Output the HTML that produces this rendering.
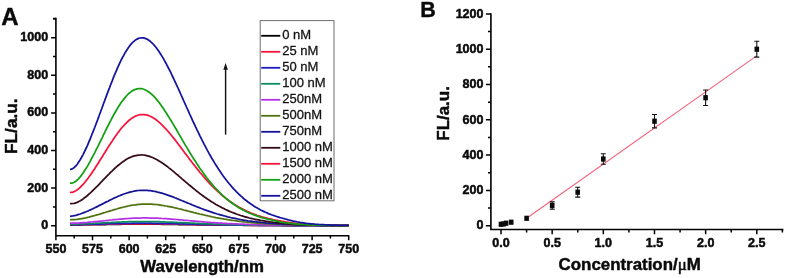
<!DOCTYPE html>
<html lang="en">
<head>
<meta charset="utf-8">
<title>Fluorescence spectra and calibration</title>
<style>
html,body{margin:0;padding:0;background:#fff;}
body{width:785px;height:278px;overflow:hidden;font-family:"Liberation Sans",Arial,sans-serif;}
svg{display:block;}
</style>
</head>
<body>
<svg width="785" height="278" viewBox="0 0 785 278">
<defs><filter id="soft" x="0" y="0" width="785" height="278" filterUnits="userSpaceOnUse" color-interpolation-filters="sRGB"><feGaussianBlur stdDeviation="0.3"/></filter></defs>
<rect width="785" height="278" fill="#fff"/>
<g filter="url(#soft)">
<g id="panelA">
<g><polyline points="70.0,224.8 71.4,224.8 72.9,224.8 74.3,224.8 75.8,224.8 77.3,224.8 78.7,224.8 80.2,224.8 81.6,224.8 83.1,224.8 84.5,224.7 86.0,224.7 87.5,224.7 88.9,224.7 90.4,224.7 91.8,224.7 93.3,224.6 94.8,224.6 96.2,224.6 97.7,224.6 99.1,224.6 100.6,224.5 102.1,224.5 103.5,224.5 105.0,224.5 106.4,224.5 107.9,224.4 109.4,224.4 110.8,224.4 112.3,224.4 113.7,224.3 115.2,224.3 116.7,224.3 118.1,224.3 119.6,224.3 121.0,224.3 122.5,224.2 124.0,224.2 125.4,224.2 126.9,224.2 128.3,224.2 129.8,224.2 131.2,224.2 132.7,224.2 134.2,224.1 135.6,224.1 137.1,224.1 138.5,224.1 140.0,224.1 141.5,224.1 142.9,224.1 144.4,224.1 145.8,224.1 147.3,224.1 148.8,224.2 150.2,224.2 151.7,224.2 153.1,224.2 154.6,224.2 156.1,224.2 157.5,224.2 159.0,224.2 160.4,224.2 161.9,224.3 163.4,224.3 164.8,224.3 166.3,224.3 167.7,224.3 169.2,224.3 170.7,224.4 172.1,224.4 173.6,224.4 175.0,224.4 176.5,224.4 178.0,224.5 179.4,224.5 180.9,224.5 182.3,224.5 183.8,224.6 185.2,224.6 186.7,224.6 188.2,224.6 189.6,224.6 191.1,224.7 192.5,224.7 194.0,224.7 195.5,224.7 196.9,224.8 198.4,224.8 199.8,224.8 201.3,224.8 202.8,224.8 204.2,224.9 205.7,224.9 207.1,224.9 208.6,224.9 210.1,224.9 211.5,224.9 213.0,225.0 214.4,225.0 215.9,225.0 217.4,225.0 218.8,225.0 220.3,225.1 221.7,225.1 223.2,225.1 224.7,225.1 226.1,225.1 227.6,225.1 229.0,225.1 230.5,225.2 231.9,225.2 233.4,225.2 234.9,225.2 236.3,225.2 237.8,225.2 239.2,225.2 240.7,225.2 242.2,225.2 243.6,225.3 245.1,225.3 246.5,225.3 248.0,225.3 249.5,225.3 250.9,225.3 252.4,225.3 253.8,225.3 255.3,225.3 256.8,225.3 258.2,225.3 259.7,225.4 261.1,225.4 262.6,225.4 264.1,225.4 265.5,225.4 267.0,225.4 268.4,225.4 269.9,225.4 271.4,225.4 272.8,225.4 274.3,225.4 275.7,225.4 277.2,225.4 278.6,225.4 280.1,225.4 281.6,225.5 283.0,225.5 284.5,225.5 285.9,225.5 287.4,225.5 288.9,225.5 290.3,225.5 291.8,225.5 293.2,225.5 294.7,225.5 296.2,225.5 297.6,225.5 299.1,225.5 300.5,225.5 302.0,225.5 303.5,225.5 304.9,225.5 306.4,225.5 307.8,225.5 309.3,225.5 310.8,225.5 312.2,225.5 313.7,225.5 315.1,225.5 316.6,225.6 318.1,225.6 319.5,225.6 321.0,225.6 322.4,225.6 323.9,225.6 325.3,225.6 326.8,225.6 328.3,225.6 329.7,225.6 331.2,225.6 332.6,225.6 334.1,225.6 335.6,225.6 337.0,225.6 338.5,225.6 339.9,225.6 341.4,225.6 342.9,225.6 344.3,225.6 345.8,225.6 347.2,225.6 348.7,225.6" fill="none" stroke="#000000" stroke-width="1.75" stroke-linejoin="round"/>
<polyline points="70.0,224.7 71.4,224.7 72.9,224.7 74.3,224.7 75.8,224.7 77.3,224.7 78.7,224.7 80.2,224.7 81.6,224.6 83.1,224.6 84.5,224.6 86.0,224.6 87.5,224.6 88.9,224.5 90.4,224.5 91.8,224.5 93.3,224.5 94.8,224.4 96.2,224.4 97.7,224.4 99.1,224.3 100.6,224.3 102.1,224.3 103.5,224.3 105.0,224.2 106.4,224.2 107.9,224.2 109.4,224.1 110.8,224.1 112.3,224.1 113.7,224.1 115.2,224.0 116.7,224.0 118.1,224.0 119.6,224.0 121.0,223.9 122.5,223.9 124.0,223.9 125.4,223.9 126.9,223.9 128.3,223.8 129.8,223.8 131.2,223.8 132.7,223.8 134.2,223.8 135.6,223.8 137.1,223.8 138.5,223.8 140.0,223.8 141.5,223.8 142.9,223.8 144.4,223.8 145.8,223.8 147.3,223.8 148.8,223.8 150.2,223.8 151.7,223.8 153.1,223.8 154.6,223.8 156.1,223.8 157.5,223.9 159.0,223.9 160.4,223.9 161.9,223.9 163.4,223.9 164.8,224.0 166.3,224.0 167.7,224.0 169.2,224.0 170.7,224.0 172.1,224.1 173.6,224.1 175.0,224.1 176.5,224.2 178.0,224.2 179.4,224.2 180.9,224.2 182.3,224.3 183.8,224.3 185.2,224.3 186.7,224.4 188.2,224.4 189.6,224.4 191.1,224.4 192.5,224.5 194.0,224.5 195.5,224.5 196.9,224.5 198.4,224.6 199.8,224.6 201.3,224.6 202.8,224.7 204.2,224.7 205.7,224.7 207.1,224.7 208.6,224.8 210.1,224.8 211.5,224.8 213.0,224.8 214.4,224.9 215.9,224.9 217.4,224.9 218.8,224.9 220.3,224.9 221.7,225.0 223.2,225.0 224.7,225.0 226.1,225.0 227.6,225.0 229.0,225.0 230.5,225.1 231.9,225.1 233.4,225.1 234.9,225.1 236.3,225.1 237.8,225.1 239.2,225.2 240.7,225.2 242.2,225.2 243.6,225.2 245.1,225.2 246.5,225.2 248.0,225.2 249.5,225.2 250.9,225.3 252.4,225.3 253.8,225.3 255.3,225.3 256.8,225.3 258.2,225.3 259.7,225.3 261.1,225.3 262.6,225.3 264.1,225.3 265.5,225.4 267.0,225.4 268.4,225.4 269.9,225.4 271.4,225.4 272.8,225.4 274.3,225.4 275.7,225.4 277.2,225.4 278.6,225.4 280.1,225.4 281.6,225.4 283.0,225.4 284.5,225.4 285.9,225.5 287.4,225.5 288.9,225.5 290.3,225.5 291.8,225.5 293.2,225.5 294.7,225.5 296.2,225.5 297.6,225.5 299.1,225.5 300.5,225.5 302.0,225.5 303.5,225.5 304.9,225.5 306.4,225.5 307.8,225.5 309.3,225.5 310.8,225.5 312.2,225.5 313.7,225.5 315.1,225.5 316.6,225.5 318.1,225.6 319.5,225.6 321.0,225.6 322.4,225.6 323.9,225.6 325.3,225.6 326.8,225.6 328.3,225.6 329.7,225.6 331.2,225.6 332.6,225.6 334.1,225.6 335.6,225.6 337.0,225.6 338.5,225.6 339.9,225.6 341.4,225.6 342.9,225.6 344.3,225.6 345.8,225.6 347.2,225.6 348.7,225.6" fill="none" stroke="#f5143c" stroke-width="1.75" stroke-linejoin="round"/>
<polyline points="70.0,224.6 71.4,224.6 72.9,224.6 74.3,224.5 75.8,224.5 77.3,224.5 78.7,224.5 80.2,224.5 81.6,224.5 83.1,224.4 84.5,224.4 86.0,224.4 87.5,224.3 88.9,224.3 90.4,224.3 91.8,224.2 93.3,224.2 94.8,224.2 96.2,224.1 97.7,224.1 99.1,224.0 100.6,224.0 102.1,224.0 103.5,223.9 105.0,223.9 106.4,223.8 107.9,223.8 109.4,223.7 110.8,223.7 112.3,223.7 113.7,223.6 115.2,223.6 116.7,223.6 118.1,223.5 119.6,223.5 121.0,223.4 122.5,223.4 124.0,223.4 125.4,223.4 126.9,223.3 128.3,223.3 129.8,223.3 131.2,223.3 132.7,223.2 134.2,223.2 135.6,223.2 137.1,223.2 138.5,223.2 140.0,223.2 141.5,223.2 142.9,223.2 144.4,223.2 145.8,223.2 147.3,223.2 148.8,223.2 150.2,223.2 151.7,223.2 153.1,223.3 154.6,223.3 156.1,223.3 157.5,223.3 159.0,223.3 160.4,223.4 161.9,223.4 163.4,223.4 164.8,223.4 166.3,223.5 167.7,223.5 169.2,223.5 170.7,223.6 172.1,223.6 173.6,223.6 175.0,223.7 176.5,223.7 178.0,223.8 179.4,223.8 180.9,223.8 182.3,223.9 183.8,223.9 185.2,223.9 186.7,224.0 188.2,224.0 189.6,224.1 191.1,224.1 192.5,224.1 194.0,224.2 195.5,224.2 196.9,224.2 198.4,224.3 199.8,224.3 201.3,224.4 202.8,224.4 204.2,224.4 205.7,224.5 207.1,224.5 208.6,224.5 210.1,224.6 211.5,224.6 213.0,224.6 214.4,224.7 215.9,224.7 217.4,224.7 218.8,224.7 220.3,224.8 221.7,224.8 223.2,224.8 224.7,224.8 226.1,224.9 227.6,224.9 229.0,224.9 230.5,224.9 231.9,225.0 233.4,225.0 234.9,225.0 236.3,225.0 237.8,225.0 239.2,225.1 240.7,225.1 242.2,225.1 243.6,225.1 245.1,225.1 246.5,225.1 248.0,225.2 249.5,225.2 250.9,225.2 252.4,225.2 253.8,225.2 255.3,225.2 256.8,225.2 258.2,225.3 259.7,225.3 261.1,225.3 262.6,225.3 264.1,225.3 265.5,225.3 267.0,225.3 268.4,225.3 269.9,225.3 271.4,225.4 272.8,225.4 274.3,225.4 275.7,225.4 277.2,225.4 278.6,225.4 280.1,225.4 281.6,225.4 283.0,225.4 284.5,225.4 285.9,225.4 287.4,225.4 288.9,225.4 290.3,225.5 291.8,225.5 293.2,225.5 294.7,225.5 296.2,225.5 297.6,225.5 299.1,225.5 300.5,225.5 302.0,225.5 303.5,225.5 304.9,225.5 306.4,225.5 307.8,225.5 309.3,225.5 310.8,225.5 312.2,225.5 313.7,225.5 315.1,225.5 316.6,225.5 318.1,225.5 319.5,225.6 321.0,225.6 322.4,225.6 323.9,225.6 325.3,225.6 326.8,225.6 328.3,225.6 329.7,225.6 331.2,225.6 332.6,225.6 334.1,225.6 335.6,225.6 337.0,225.6 338.5,225.6 339.9,225.6 341.4,225.6 342.9,225.6 344.3,225.6 345.8,225.6 347.2,225.6 348.7,225.6" fill="none" stroke="#1c1cc0" stroke-width="1.75" stroke-linejoin="round"/>
<polyline points="70.0,224.1 71.4,224.1 72.9,224.1 74.3,224.1 75.8,224.0 77.3,224.0 78.7,224.0 80.2,223.9 81.6,223.9 83.1,223.8 84.5,223.8 86.0,223.7 87.5,223.7 88.9,223.6 90.4,223.5 91.8,223.5 93.3,223.4 94.8,223.3 96.2,223.2 97.7,223.2 99.1,223.1 100.6,223.0 102.1,222.9 103.5,222.9 105.0,222.8 106.4,222.7 107.9,222.6 109.4,222.6 110.8,222.5 112.3,222.4 113.7,222.3 115.2,222.3 116.7,222.2 118.1,222.1 119.6,222.1 121.0,222.0 122.5,221.9 124.0,221.9 125.4,221.8 126.9,221.8 128.3,221.7 129.8,221.7 131.2,221.7 132.7,221.6 134.2,221.6 135.6,221.6 137.1,221.5 138.5,221.5 140.0,221.5 141.5,221.5 142.9,221.5 144.4,221.5 145.8,221.5 147.3,221.5 148.8,221.5 150.2,221.6 151.7,221.6 153.1,221.6 154.6,221.6 156.1,221.7 157.5,221.7 159.0,221.7 160.4,221.8 161.9,221.8 163.4,221.9 164.8,221.9 166.3,222.0 167.7,222.0 169.2,222.1 170.7,222.2 172.1,222.2 173.6,222.3 175.0,222.3 176.5,222.4 178.0,222.5 179.4,222.5 180.9,222.6 182.3,222.7 183.8,222.7 185.2,222.8 186.7,222.9 188.2,222.9 189.6,223.0 191.1,223.1 192.5,223.1 194.0,223.2 195.5,223.3 196.9,223.3 198.4,223.4 199.8,223.5 201.3,223.5 202.8,223.6 204.2,223.7 205.7,223.7 207.1,223.8 208.6,223.8 210.1,223.9 211.5,223.9 213.0,224.0 214.4,224.0 215.9,224.1 217.4,224.2 218.8,224.2 220.3,224.2 221.7,224.3 223.2,224.3 224.7,224.4 226.1,224.4 227.6,224.5 229.0,224.5 230.5,224.5 231.9,224.6 233.4,224.6 234.9,224.7 236.3,224.7 237.8,224.7 239.2,224.8 240.7,224.8 242.2,224.8 243.6,224.9 245.1,224.9 246.5,224.9 248.0,224.9 249.5,225.0 250.9,225.0 252.4,225.0 253.8,225.0 255.3,225.1 256.8,225.1 258.2,225.1 259.7,225.1 261.1,225.1 262.6,225.1 264.1,225.2 265.5,225.2 267.0,225.2 268.4,225.2 269.9,225.2 271.4,225.2 272.8,225.3 274.3,225.3 275.7,225.3 277.2,225.3 278.6,225.3 280.1,225.3 281.6,225.3 283.0,225.3 284.5,225.4 285.9,225.4 287.4,225.4 288.9,225.4 290.3,225.4 291.8,225.4 293.2,225.4 294.7,225.4 296.2,225.4 297.6,225.4 299.1,225.5 300.5,225.5 302.0,225.5 303.5,225.5 304.9,225.5 306.4,225.5 307.8,225.5 309.3,225.5 310.8,225.5 312.2,225.5 313.7,225.5 315.1,225.5 316.6,225.5 318.1,225.5 319.5,225.5 321.0,225.5 322.4,225.5 323.9,225.6 325.3,225.6 326.8,225.6 328.3,225.6 329.7,225.6 331.2,225.6 332.6,225.6 334.1,225.6 335.6,225.6 337.0,225.6 338.5,225.6 339.9,225.6 341.4,225.6 342.9,225.6 344.3,225.6 345.8,225.6 347.2,225.6 348.7,225.6" fill="none" stroke="#108a60" stroke-width="1.75" stroke-linejoin="round"/>
<polyline points="70.0,223.2 71.4,223.2 72.9,223.2 74.3,223.1 75.8,223.1 77.3,223.0 78.7,223.0 80.2,222.9 81.6,222.8 83.1,222.7 84.5,222.6 86.0,222.5 87.5,222.4 88.9,222.2 90.4,222.1 91.8,222.0 93.3,221.8 94.8,221.7 96.2,221.6 97.7,221.4 99.1,221.3 100.6,221.1 102.1,221.0 103.5,220.8 105.0,220.7 106.4,220.5 107.9,220.3 109.4,220.2 110.8,220.0 112.3,219.9 113.7,219.7 115.2,219.6 116.7,219.5 118.1,219.3 119.6,219.2 121.0,219.1 122.5,218.9 124.0,218.8 125.4,218.7 126.9,218.6 128.3,218.5 129.8,218.4 131.2,218.3 132.7,218.2 134.2,218.2 135.6,218.1 137.1,218.1 138.5,218.0 140.0,218.0 141.5,218.0 142.9,217.9 144.4,217.9 145.8,217.9 147.3,217.9 148.8,218.0 150.2,218.0 151.7,218.0 153.1,218.1 154.6,218.1 156.1,218.2 157.5,218.2 159.0,218.3 160.4,218.4 161.9,218.5 163.4,218.6 164.8,218.6 166.3,218.7 167.7,218.8 169.2,218.9 170.7,219.1 172.1,219.2 173.6,219.3 175.0,219.4 176.5,219.5 178.0,219.6 179.4,219.8 180.9,219.9 182.3,220.0 183.8,220.2 185.2,220.3 186.7,220.4 188.2,220.5 189.6,220.7 191.1,220.8 192.5,220.9 194.0,221.1 195.5,221.2 196.9,221.3 198.4,221.4 199.8,221.6 201.3,221.7 202.8,221.8 204.2,221.9 205.7,222.0 207.1,222.1 208.6,222.3 210.1,222.4 211.5,222.5 213.0,222.6 214.4,222.7 215.9,222.8 217.4,222.9 218.8,223.0 220.3,223.1 221.7,223.2 223.2,223.3 224.7,223.3 226.1,223.4 227.6,223.5 229.0,223.6 230.5,223.7 231.9,223.7 233.4,223.8 234.9,223.9 236.3,223.9 237.8,224.0 239.2,224.1 240.7,224.1 242.2,224.2 243.6,224.2 245.1,224.3 246.5,224.4 248.0,224.4 249.5,224.5 250.9,224.5 252.4,224.5 253.8,224.6 255.3,224.6 256.8,224.7 258.2,224.7 259.7,224.7 261.1,224.8 262.6,224.8 264.1,224.9 265.5,224.9 267.0,224.9 268.4,224.9 269.9,225.0 271.4,225.0 272.8,225.0 274.3,225.0 275.7,225.1 277.2,225.1 278.6,225.1 280.1,225.1 281.6,225.2 283.0,225.2 284.5,225.2 285.9,225.2 287.4,225.2 288.9,225.3 290.3,225.3 291.8,225.3 293.2,225.3 294.7,225.3 296.2,225.3 297.6,225.4 299.1,225.4 300.5,225.4 302.0,225.4 303.5,225.4 304.9,225.4 306.4,225.4 307.8,225.4 309.3,225.5 310.8,225.5 312.2,225.5 313.7,225.5 315.1,225.5 316.6,225.5 318.1,225.5 319.5,225.5 321.0,225.5 322.4,225.5 323.9,225.5 325.3,225.5 326.8,225.5 328.3,225.5 329.7,225.6 331.2,225.6 332.6,225.6 334.1,225.6 335.6,225.6 337.0,225.6 338.5,225.6 339.9,225.6 341.4,225.6 342.9,225.6 344.3,225.6 345.8,225.6 347.2,225.6 348.7,225.6" fill="none" stroke="#b432e6" stroke-width="1.75" stroke-linejoin="round"/>
<polyline points="70.0,219.7 71.4,219.7 72.9,219.7 74.3,219.6 75.8,219.5 77.3,219.3 78.7,219.1 80.2,218.9 81.6,218.7 83.1,218.4 84.5,218.1 86.0,217.8 87.5,217.4 88.9,217.1 90.4,216.7 91.8,216.3 93.3,215.9 94.8,215.5 96.2,215.1 97.7,214.7 99.1,214.3 100.6,213.8 102.1,213.4 103.5,212.9 105.0,212.5 106.4,212.0 107.9,211.6 109.4,211.1 110.8,210.7 112.3,210.3 113.7,209.8 115.2,209.4 116.7,209.0 118.1,208.5 119.6,208.1 121.0,207.7 122.5,207.4 124.0,207.0 125.4,206.7 126.9,206.3 128.3,206.0 129.8,205.7 131.2,205.4 132.7,205.2 134.2,205.0 135.6,204.8 137.1,204.6 138.5,204.4 140.0,204.3 141.5,204.2 142.9,204.1 144.4,204.1 145.8,204.0 147.3,204.0 148.8,204.1 150.2,204.1 151.7,204.2 153.1,204.3 154.6,204.4 156.1,204.5 157.5,204.7 159.0,204.9 160.4,205.1 161.9,205.3 163.4,205.5 164.8,205.8 166.3,206.0 167.7,206.3 169.2,206.6 170.7,206.9 172.1,207.2 173.6,207.5 175.0,207.9 176.5,208.2 178.0,208.5 179.4,208.9 180.9,209.2 182.3,209.6 183.8,210.0 185.2,210.3 186.7,210.7 188.2,211.1 189.6,211.4 191.1,211.8 192.5,212.2 194.0,212.6 195.5,212.9 196.9,213.3 198.4,213.6 199.8,214.0 201.3,214.3 202.8,214.7 204.2,215.0 205.7,215.4 207.1,215.7 208.6,216.0 210.1,216.3 211.5,216.7 213.0,217.0 214.4,217.3 215.9,217.6 217.4,217.8 218.8,218.1 220.3,218.4 221.7,218.7 223.2,218.9 224.7,219.2 226.1,219.4 227.6,219.7 229.0,219.9 230.5,220.1 231.9,220.3 233.4,220.5 234.9,220.7 236.3,220.9 237.8,221.1 239.2,221.3 240.7,221.5 242.2,221.7 243.6,221.8 245.1,222.0 246.5,222.1 248.0,222.3 249.5,222.4 250.9,222.6 252.4,222.7 253.8,222.8 255.3,223.0 256.8,223.1 258.2,223.2 259.7,223.3 261.1,223.4 262.6,223.5 264.1,223.6 265.5,223.7 267.0,223.8 268.4,223.9 269.9,223.9 271.4,224.0 272.8,224.1 274.3,224.2 275.7,224.2 277.2,224.3 278.6,224.3 280.1,224.4 281.6,224.5 283.0,224.5 284.5,224.6 285.9,224.6 287.4,224.7 288.9,224.7 290.3,224.8 291.8,224.8 293.2,224.9 294.7,224.9 296.2,225.0 297.6,225.0 299.1,225.0 300.5,225.1 302.0,225.1 303.5,225.1 304.9,225.2 306.4,225.2 307.8,225.2 309.3,225.3 310.8,225.3 312.2,225.3 313.7,225.3 315.1,225.3 316.6,225.4 318.1,225.4 319.5,225.4 321.0,225.4 322.4,225.4 323.9,225.4 325.3,225.5 326.8,225.5 328.3,225.5 329.7,225.5 331.2,225.5 332.6,225.5 334.1,225.5 335.6,225.5 337.0,225.5 338.5,225.5 339.9,225.5 341.4,225.6 342.9,225.6 344.3,225.6 345.8,225.6 347.2,225.6 348.7,225.6" fill="none" stroke="#4f7311" stroke-width="1.75" stroke-linejoin="round"/>
<polyline points="70.0,216.3 71.4,216.1 72.9,215.9 74.3,215.6 75.8,215.3 77.3,214.9 78.7,214.4 80.2,214.0 81.6,213.5 83.1,212.9 84.5,212.4 86.0,211.8 87.5,211.2 88.9,210.5 90.4,209.9 91.8,209.2 93.3,208.5 94.8,207.8 96.2,207.1 97.7,206.4 99.1,205.6 100.6,204.9 102.1,204.1 103.5,203.4 105.0,202.6 106.4,201.9 107.9,201.2 109.4,200.4 110.8,199.7 112.3,199.0 113.7,198.3 115.2,197.6 116.7,197.0 118.1,196.3 119.6,195.7 121.0,195.1 122.5,194.5 124.0,194.0 125.4,193.5 126.9,193.0 128.3,192.6 129.8,192.2 131.2,191.8 132.7,191.5 134.2,191.2 135.6,190.9 137.1,190.7 138.5,190.5 140.0,190.4 141.5,190.3 142.9,190.3 144.4,190.3 145.8,190.4 147.3,190.4 148.8,190.6 150.2,190.7 151.7,190.9 153.1,191.2 154.6,191.4 156.1,191.7 157.5,192.1 159.0,192.4 160.4,192.8 161.9,193.2 163.4,193.7 164.8,194.1 166.3,194.6 167.7,195.1 169.2,195.6 170.7,196.1 172.1,196.7 173.6,197.2 175.0,197.8 176.5,198.4 178.0,199.0 179.4,199.6 180.9,200.2 182.3,200.8 183.8,201.4 185.2,202.0 186.7,202.6 188.2,203.2 189.6,203.8 191.1,204.4 192.5,205.0 194.0,205.6 195.5,206.2 196.9,206.8 198.4,207.3 199.8,207.9 201.3,208.5 202.8,209.0 204.2,209.6 205.7,210.1 207.1,210.6 208.6,211.1 210.1,211.6 211.5,212.1 213.0,212.6 214.4,213.1 215.9,213.5 217.4,214.0 218.8,214.4 220.3,214.8 221.7,215.2 223.2,215.6 224.7,216.0 226.1,216.4 227.6,216.8 229.0,217.1 230.5,217.5 231.9,217.8 233.4,218.1 234.9,218.4 236.3,218.7 237.8,219.0 239.2,219.3 240.7,219.6 242.2,219.8 243.6,220.1 245.1,220.3 246.5,220.5 248.0,220.8 249.5,221.0 250.9,221.2 252.4,221.4 253.8,221.6 255.3,221.7 256.8,221.9 258.2,222.1 259.7,222.2 261.1,222.4 262.6,222.5 264.1,222.7 265.5,222.8 267.0,223.0 268.4,223.1 269.9,223.2 271.4,223.3 272.8,223.4 274.3,223.5 275.7,223.6 277.2,223.7 278.6,223.8 280.1,223.9 281.6,224.0 283.0,224.1 284.5,224.1 285.9,224.2 287.4,224.3 288.9,224.4 290.3,224.4 291.8,224.5 293.2,224.6 294.7,224.7 296.2,224.7 297.6,224.8 299.1,224.8 300.5,224.9 302.0,224.9 303.5,225.0 304.9,225.0 306.4,225.1 307.8,225.1 309.3,225.1 310.8,225.2 312.2,225.2 313.7,225.2 315.1,225.3 316.6,225.3 318.1,225.3 319.5,225.3 321.0,225.4 322.4,225.4 323.9,225.4 325.3,225.4 326.8,225.4 328.3,225.4 329.7,225.5 331.2,225.5 332.6,225.5 334.1,225.5 335.6,225.5 337.0,225.5 338.5,225.5 339.9,225.5 341.4,225.5 342.9,225.5 344.3,225.6 345.8,225.6 347.2,225.6 348.7,225.6" fill="none" stroke="#141496" stroke-width="1.75" stroke-linejoin="round"/>
<polyline points="70.0,203.5 71.4,203.6 72.9,203.5 74.3,203.3 75.8,202.8 77.3,202.3 78.7,201.6 80.2,200.8 81.6,199.9 83.1,198.9 84.5,197.8 86.0,196.7 87.5,195.5 88.9,194.2 90.4,192.9 91.8,191.5 93.3,190.1 94.8,188.7 96.2,187.2 97.7,185.8 99.1,184.3 100.6,182.7 102.1,181.2 103.5,179.7 105.0,178.2 106.4,176.7 107.9,175.2 109.4,173.7 110.8,172.2 112.3,170.8 113.7,169.4 115.2,168.0 116.7,166.7 118.1,165.5 119.6,164.3 121.0,163.1 122.5,162.0 124.0,161.0 125.4,160.0 126.9,159.1 128.3,158.3 129.8,157.6 131.2,157.0 132.7,156.4 134.2,155.9 135.6,155.6 137.1,155.3 138.5,155.1 140.0,155.0 141.5,154.9 142.9,155.0 144.4,155.2 145.8,155.4 147.3,155.8 148.8,156.2 150.2,156.6 151.7,157.2 153.1,157.8 154.6,158.5 156.1,159.2 157.5,160.0 159.0,160.9 160.4,161.8 161.9,162.7 163.4,163.7 164.8,164.8 166.3,165.8 167.7,166.9 169.2,168.1 170.7,169.2 172.1,170.4 173.6,171.6 175.0,172.8 176.5,174.1 178.0,175.3 179.4,176.6 180.9,177.8 182.3,179.1 183.8,180.3 185.2,181.6 186.7,182.8 188.2,184.1 189.6,185.3 191.1,186.5 192.5,187.7 194.0,188.9 195.5,190.1 196.9,191.3 198.4,192.4 199.8,193.5 201.3,194.6 202.8,195.7 204.2,196.8 205.7,197.8 207.1,198.8 208.6,199.8 210.1,200.8 211.5,201.7 213.0,202.6 214.4,203.5 215.9,204.4 217.4,205.2 218.8,206.0 220.3,206.8 221.7,207.6 223.2,208.3 224.7,209.1 226.1,209.7 227.6,210.4 229.0,211.1 230.5,211.7 231.9,212.3 233.4,212.9 234.9,213.4 236.3,214.0 237.8,214.5 239.2,215.0 240.7,215.5 242.2,215.9 243.6,216.4 245.1,216.8 246.5,217.2 248.0,217.6 249.5,218.0 250.9,218.3 252.4,218.7 253.8,219.0 255.3,219.3 256.8,219.6 258.2,219.9 259.7,220.2 261.1,220.5 262.6,220.7 264.1,220.9 265.5,221.2 267.0,221.4 268.4,221.6 269.9,221.8 271.4,222.0 272.8,222.2 274.3,222.3 275.7,222.5 277.2,222.7 278.6,222.8 280.1,223.0 281.6,223.1 283.0,223.3 284.5,223.5 285.9,223.6 287.4,223.7 288.9,223.9 290.3,224.0 291.8,224.1 293.2,224.2 294.7,224.3 296.2,224.4 297.6,224.5 299.1,224.6 300.5,224.6 302.0,224.7 303.5,224.8 304.9,224.8 306.4,224.9 307.8,225.0 309.3,225.0 310.8,225.1 312.2,225.1 313.7,225.1 315.1,225.2 316.6,225.2 318.1,225.2 319.5,225.3 321.0,225.3 322.4,225.3 323.9,225.3 325.3,225.4 326.8,225.4 328.3,225.4 329.7,225.4 331.2,225.4 332.6,225.5 334.1,225.5 335.6,225.5 337.0,225.5 338.5,225.5 339.9,225.5 341.4,225.5 342.9,225.5 344.3,225.5 345.8,225.6 347.2,225.6 348.7,225.6" fill="none" stroke="#360a1a" stroke-width="1.75" stroke-linejoin="round"/>
<polyline points="70.0,192.4 71.4,192.4 72.9,192.1 74.3,191.6 75.8,190.8 77.3,189.8 78.7,188.7 80.2,187.4 81.6,185.9 83.1,184.4 84.5,182.7 86.0,180.9 87.5,179.0 88.9,177.0 90.4,175.0 91.8,172.9 93.3,170.7 94.8,168.5 96.2,166.3 97.7,164.0 99.1,161.7 100.6,159.3 102.1,157.0 103.5,154.6 105.0,152.3 106.4,150.0 107.9,147.6 109.4,145.3 110.8,143.1 112.3,140.9 113.7,138.7 115.2,136.6 116.7,134.5 118.1,132.5 119.6,130.6 121.0,128.7 122.5,127.0 124.0,125.3 125.4,123.8 126.9,122.3 128.3,121.0 129.8,119.7 131.2,118.6 132.7,117.7 134.2,116.8 135.6,116.1 137.1,115.5 138.5,115.0 140.0,114.7 141.5,114.6 142.9,114.5 144.4,114.6 145.8,114.9 147.3,115.2 148.8,115.7 150.2,116.3 151.7,117.0 153.1,117.8 154.6,118.8 156.1,119.8 157.5,120.9 159.0,122.1 160.4,123.4 161.9,124.8 163.4,126.3 164.8,127.8 166.3,129.4 167.7,131.0 169.2,132.7 170.7,134.5 172.1,136.2 173.6,138.1 175.0,139.9 176.5,141.8 178.0,143.7 179.4,145.6 180.9,147.6 182.3,149.5 183.8,151.5 185.2,153.4 186.7,155.3 188.2,157.3 189.6,159.2 191.1,161.1 192.5,163.0 194.0,164.9 195.5,166.8 196.9,168.6 198.4,170.4 199.8,172.2 201.3,174.0 202.8,175.7 204.2,177.4 205.7,179.1 207.1,180.7 208.6,182.3 210.1,183.9 211.5,185.4 213.0,186.9 214.4,188.3 215.9,189.7 217.4,191.1 218.8,192.4 220.3,193.7 221.7,195.0 223.2,196.2 224.7,197.4 226.1,198.6 227.6,199.7 229.0,200.7 230.5,201.8 231.9,202.8 233.4,203.8 234.9,204.7 236.3,205.6 237.8,206.5 239.2,207.3 240.7,208.1 242.2,208.9 243.6,209.6 245.1,210.4 246.5,211.1 248.0,211.7 249.5,212.4 250.9,213.0 252.4,213.5 253.8,214.1 255.3,214.6 256.8,215.2 258.2,215.7 259.7,216.1 261.1,216.6 262.6,217.0 264.1,217.4 265.5,217.8 267.0,218.2 268.4,218.6 269.9,218.9 271.4,219.2 272.8,219.6 274.3,219.9 275.7,220.1 277.2,220.4 278.6,220.7 280.1,220.9 281.6,221.2 283.0,221.4 284.5,221.6 285.9,221.9 287.4,222.1 288.9,222.4 290.3,222.6 291.8,222.8 293.2,223.0 294.7,223.2 296.2,223.3 297.6,223.5 299.1,223.7 300.5,223.8 302.0,223.9 303.5,224.1 304.9,224.2 306.4,224.3 307.8,224.4 309.3,224.5 310.8,224.6 312.2,224.6 313.7,224.7 315.1,224.8 316.6,224.8 318.1,224.9 319.5,225.0 321.0,225.0 322.4,225.1 323.9,225.1 325.3,225.2 326.8,225.2 328.3,225.2 329.7,225.3 331.2,225.3 332.6,225.3 334.1,225.3 335.6,225.4 337.0,225.4 338.5,225.4 339.9,225.4 341.4,225.4 342.9,225.5 344.3,225.5 345.8,225.5 347.2,225.5 348.7,225.5" fill="none" stroke="#f5143c" stroke-width="1.75" stroke-linejoin="round"/>
<polyline points="70.0,183.1 71.4,183.1 72.9,182.8 74.3,182.2 75.8,181.2 77.3,180.0 78.7,178.6 80.2,176.9 81.6,175.1 83.1,173.0 84.5,170.8 86.0,168.5 87.5,166.1 88.9,163.6 90.4,160.9 91.8,158.2 93.3,155.4 94.8,152.6 96.2,149.7 97.7,146.8 99.1,143.8 100.6,140.8 102.1,137.8 103.5,134.8 105.0,131.8 106.4,128.9 107.9,126.0 109.4,123.1 110.8,120.3 112.3,117.5 113.7,114.8 115.2,112.2 116.7,109.7 118.1,107.3 119.6,105.0 121.0,102.8 122.5,100.8 124.0,98.9 125.4,97.1 126.9,95.5 128.3,94.0 129.8,92.7 131.2,91.6 132.7,90.6 134.2,89.9 135.6,89.3 137.1,88.9 138.5,88.6 140.0,88.6 141.5,88.7 142.9,89.0 144.4,89.5 145.8,90.2 147.3,91.0 148.8,91.9 150.2,93.0 151.7,94.3 153.1,95.7 154.6,97.2 156.1,98.8 157.5,100.6 159.0,102.4 160.4,104.3 161.9,106.4 163.4,108.5 164.8,110.7 166.3,112.9 167.7,115.2 169.2,117.6 170.7,120.0 172.1,122.4 173.6,124.9 175.0,127.3 176.5,129.8 178.0,132.4 179.4,134.9 180.9,137.4 182.3,139.9 183.8,142.4 185.2,144.9 186.7,147.4 188.2,149.8 189.6,152.2 191.1,154.6 192.5,157.0 194.0,159.3 195.5,161.6 196.9,163.8 198.4,166.0 199.8,168.2 201.3,170.3 202.8,172.3 204.2,174.4 205.7,176.3 207.1,178.2 208.6,180.1 210.1,181.9 211.5,183.7 213.0,185.4 214.4,187.0 215.9,188.6 217.4,190.2 218.8,191.7 220.3,193.2 221.7,194.6 223.2,195.9 224.7,197.2 226.1,198.5 227.6,199.7 229.0,200.9 230.5,202.0 231.9,203.1 233.4,204.1 234.9,205.1 236.3,206.1 237.8,207.0 239.2,207.9 240.7,208.7 242.2,209.6 243.6,210.3 245.1,211.1 246.5,211.8 248.0,212.5 249.5,213.1 250.9,213.7 252.4,214.3 253.8,214.9 255.3,215.4 256.8,215.9 258.2,216.4 259.7,216.9 261.1,217.4 262.6,217.8 264.1,218.2 265.5,218.6 267.0,218.9 268.4,219.3 269.9,219.6 271.4,219.9 272.8,220.2 274.3,220.5 275.7,220.9 277.2,221.2 278.6,221.5 280.1,221.8 281.6,222.1 283.0,222.3 284.5,222.6 285.9,222.8 287.4,223.0 288.9,223.2 290.3,223.4 291.8,223.5 293.2,223.7 294.7,223.8 296.2,224.0 297.6,224.1 299.1,224.2 300.5,224.3 302.0,224.4 303.5,224.5 304.9,224.6 306.4,224.7 307.8,224.8 309.3,224.8 310.8,224.9 312.2,225.0 313.7,225.0 315.1,225.1 316.6,225.1 318.1,225.2 319.5,225.2 321.0,225.2 322.4,225.3 323.9,225.3 325.3,225.3 326.8,225.4 328.3,225.4 329.7,225.4 331.2,225.4 332.6,225.4 334.1,225.5 335.6,225.5 337.0,225.5 338.5,225.5 339.9,225.5 341.4,225.5 342.9,225.5 344.3,225.5 345.8,225.6 347.2,225.6 348.7,225.6" fill="none" stroke="#12a012" stroke-width="1.75" stroke-linejoin="round"/>
<polyline points="70.0,169.3 71.4,169.1 72.9,168.5 74.3,167.4 75.8,166.0 77.3,164.2 78.7,162.1 80.2,159.8 81.6,157.3 83.1,154.6 84.5,151.6 86.0,148.5 87.5,145.3 88.9,141.9 90.4,138.4 91.8,134.8 93.3,131.1 94.8,127.3 96.2,123.5 97.7,119.6 99.1,115.7 100.6,111.7 102.1,107.7 103.5,103.8 105.0,99.8 106.4,95.9 107.9,91.9 109.4,88.1 110.8,84.3 112.3,80.6 113.7,76.9 115.2,73.4 116.7,69.9 118.1,66.6 119.6,63.4 121.0,60.4 122.5,57.5 124.0,54.8 125.4,52.2 126.9,49.9 128.3,47.7 129.8,45.7 131.2,43.9 132.7,42.4 134.2,41.1 135.6,39.9 137.1,39.1 138.5,38.4 140.0,38.0 141.5,37.8 142.9,37.9 144.4,38.2 145.8,38.6 147.3,39.3 148.8,40.2 150.2,41.3 151.7,42.6 153.1,44.0 154.6,45.7 156.1,47.5 157.5,49.4 159.0,51.5 160.4,53.7 161.9,56.1 163.4,58.6 164.8,61.2 166.3,63.8 167.7,66.6 169.2,69.5 170.7,72.4 172.1,75.5 173.6,78.5 175.0,81.6 176.5,84.8 178.0,88.0 179.4,91.2 180.9,94.5 182.3,97.7 183.8,101.0 185.2,104.2 186.7,107.5 188.2,110.7 189.6,114.0 191.1,117.2 192.5,120.4 194.0,123.5 195.5,126.6 196.9,129.7 198.4,132.7 199.8,135.7 201.3,138.7 202.8,141.6 204.2,144.4 205.7,147.2 207.1,149.9 208.6,152.6 210.1,155.2 211.5,157.7 213.0,160.2 214.4,162.6 215.9,165.0 217.4,167.3 218.8,169.6 220.3,171.7 221.7,173.8 223.2,175.9 224.7,177.9 226.1,179.8 227.6,181.7 229.0,183.5 230.5,185.2 231.9,186.9 233.4,188.6 234.9,190.1 236.3,191.6 237.8,193.1 239.2,194.5 240.7,195.9 242.2,197.2 243.6,198.5 245.1,199.7 246.5,200.8 248.0,202.0 249.5,203.0 250.9,204.1 252.4,205.1 253.8,206.0 255.3,206.9 256.8,207.8 258.2,208.6 259.7,209.4 261.1,210.2 262.6,210.9 264.1,211.6 265.5,212.3 267.0,212.9 268.4,213.6 269.9,214.1 271.4,214.7 272.8,215.2 274.3,215.7 275.7,216.2 277.2,216.7 278.6,217.1 280.1,217.6 281.6,218.0 283.0,218.4 284.5,218.7 285.9,219.2 287.4,219.6 288.9,220.0 290.3,220.4 291.8,220.7 293.2,221.1 294.7,221.4 296.2,221.7 297.6,222.0 299.1,222.2 300.5,222.5 302.0,222.7 303.5,222.9 304.9,223.1 306.4,223.3 307.8,223.5 309.3,223.6 310.8,223.8 312.2,223.9 313.7,224.0 315.1,224.2 316.6,224.3 318.1,224.4 319.5,224.5 321.0,224.6 322.4,224.7 323.9,224.7 325.3,224.8 326.8,224.9 328.3,224.9 329.7,225.0 331.2,225.0 332.6,225.1 334.1,225.1 335.6,225.2 337.0,225.2 338.5,225.3 339.9,225.3 341.4,225.3 342.9,225.3 344.3,225.4 345.8,225.4 347.2,225.4 348.7,225.4" fill="none" stroke="#1414a0" stroke-width="1.75" stroke-linejoin="round"/></g>
<path d="M55.9,17.85 V235.7 H349.35" fill="none" stroke="#000" stroke-width="1.6" stroke-linejoin="miter"/>
<path d="M55.9,225.70 h-4.8 M55.9,188.10 h-4.8 M55.9,150.50 h-4.8 M55.9,112.90 h-4.8 M55.9,75.30 h-4.8 M55.9,37.70 h-4.8 M55.9,206.90 h-2.9 M55.9,169.30 h-2.9 M55.9,131.70 h-2.9 M55.9,94.10 h-2.9 M55.9,56.50 h-2.9 M55.9,18.90 h-2.9 M55.9,18.6 h-2.9 M55.90,235.7 v4.5 M92.50,235.7 v4.5 M129.10,235.7 v4.5 M165.70,235.7 v4.5 M202.30,235.7 v4.5 M238.90,235.7 v4.5 M275.50,235.7 v4.5 M312.10,235.7 v4.5 M348.70,235.7 v4.5 M74.20,235.7 v2.8 M110.80,235.7 v2.8 M147.40,235.7 v2.8 M184.00,235.7 v2.8 M220.60,235.7 v2.8 M257.20,235.7 v2.8 M293.80,235.7 v2.8 M330.40,235.7 v2.8" fill="none" stroke="#000" stroke-width="1.5"/>
<text transform="translate(48.20,229.10) scale(0.95,1)" text-anchor="end" font-family="'Liberation Sans', Arial, sans-serif" font-weight="bold" font-size="13.2" fill="#0a0a0a" stroke="#0a0a0a" stroke-width="0.5" stroke-linejoin="round">0</text>
<text transform="translate(48.20,191.50) scale(0.95,1)" text-anchor="end" font-family="'Liberation Sans', Arial, sans-serif" font-weight="bold" font-size="13.2" fill="#0a0a0a" stroke="#0a0a0a" stroke-width="0.5" stroke-linejoin="round">200</text>
<text transform="translate(48.20,153.90) scale(0.95,1)" text-anchor="end" font-family="'Liberation Sans', Arial, sans-serif" font-weight="bold" font-size="13.2" fill="#0a0a0a" stroke="#0a0a0a" stroke-width="0.5" stroke-linejoin="round">400</text>
<text transform="translate(48.20,116.30) scale(0.95,1)" text-anchor="end" font-family="'Liberation Sans', Arial, sans-serif" font-weight="bold" font-size="13.2" fill="#0a0a0a" stroke="#0a0a0a" stroke-width="0.5" stroke-linejoin="round">600</text>
<text transform="translate(48.20,78.70) scale(0.95,1)" text-anchor="end" font-family="'Liberation Sans', Arial, sans-serif" font-weight="bold" font-size="13.2" fill="#0a0a0a" stroke="#0a0a0a" stroke-width="0.5" stroke-linejoin="round">800</text>
<text transform="translate(48.20,41.10) scale(0.95,1)" text-anchor="end" font-family="'Liberation Sans', Arial, sans-serif" font-weight="bold" font-size="13.2" fill="#0a0a0a" stroke="#0a0a0a" stroke-width="0.5" stroke-linejoin="round">1000</text>
<text transform="translate(55.90,253.10) scale(0.97,1)" text-anchor="middle" font-family="'Liberation Sans', Arial, sans-serif" font-weight="bold" font-size="12.9" fill="#0a0a0a" stroke="#0a0a0a" stroke-width="0.5" stroke-linejoin="round">550</text>
<text transform="translate(92.50,253.10) scale(0.97,1)" text-anchor="middle" font-family="'Liberation Sans', Arial, sans-serif" font-weight="bold" font-size="12.9" fill="#0a0a0a" stroke="#0a0a0a" stroke-width="0.5" stroke-linejoin="round">575</text>
<text transform="translate(129.10,253.10) scale(0.97,1)" text-anchor="middle" font-family="'Liberation Sans', Arial, sans-serif" font-weight="bold" font-size="12.9" fill="#0a0a0a" stroke="#0a0a0a" stroke-width="0.5" stroke-linejoin="round">600</text>
<text transform="translate(165.70,253.10) scale(0.97,1)" text-anchor="middle" font-family="'Liberation Sans', Arial, sans-serif" font-weight="bold" font-size="12.9" fill="#0a0a0a" stroke="#0a0a0a" stroke-width="0.5" stroke-linejoin="round">625</text>
<text transform="translate(202.30,253.10) scale(0.97,1)" text-anchor="middle" font-family="'Liberation Sans', Arial, sans-serif" font-weight="bold" font-size="12.9" fill="#0a0a0a" stroke="#0a0a0a" stroke-width="0.5" stroke-linejoin="round">650</text>
<text transform="translate(238.90,253.10) scale(0.97,1)" text-anchor="middle" font-family="'Liberation Sans', Arial, sans-serif" font-weight="bold" font-size="12.9" fill="#0a0a0a" stroke="#0a0a0a" stroke-width="0.5" stroke-linejoin="round">675</text>
<text transform="translate(275.50,253.10) scale(0.97,1)" text-anchor="middle" font-family="'Liberation Sans', Arial, sans-serif" font-weight="bold" font-size="12.9" fill="#0a0a0a" stroke="#0a0a0a" stroke-width="0.5" stroke-linejoin="round">700</text>
<text transform="translate(312.10,253.10) scale(0.97,1)" text-anchor="middle" font-family="'Liberation Sans', Arial, sans-serif" font-weight="bold" font-size="12.9" fill="#0a0a0a" stroke="#0a0a0a" stroke-width="0.5" stroke-linejoin="round">725</text>
<text transform="translate(348.70,253.10) scale(0.97,1)" text-anchor="middle" font-family="'Liberation Sans', Arial, sans-serif" font-weight="bold" font-size="12.9" fill="#0a0a0a" stroke="#0a0a0a" stroke-width="0.5" stroke-linejoin="round">750</text>
<text transform="translate(202.10,271.80) scale(1.066,1)" text-anchor="middle" font-family="'Liberation Sans', Arial, sans-serif" font-weight="bold" font-size="15.8" fill="#0a0a0a" stroke="#0a0a0a" stroke-width="0.45" stroke-linejoin="round">Wavelength/nm</text>
<text transform="translate(17.20,126.20) rotate(-90) scale(1.025,1)" text-anchor="middle" font-family="'Liberation Sans', Arial, sans-serif" font-weight="bold" font-size="16.8" fill="#0a0a0a" stroke="#0a0a0a" stroke-width="0.45" stroke-linejoin="round">FL/a.u.</text>
<text transform="translate(1.20,25.00)" text-anchor="start" font-family="'Liberation Sans', Arial, sans-serif" font-weight="bold" font-size="24" fill="#0a0a0a" stroke="#0a0a0a" stroke-width="0.4" stroke-linejoin="round">A</text>
<path d="M225.6,134.6 V68" stroke="#111" stroke-width="1.45" fill="none"/>
<path d="M225.6,63.0 L227.9,69.8 L223.3,69.8 Z" fill="#111"/>
<rect x="260.2" y="20.6" width="73.8" height="180.2" fill="#fff" stroke="#6e6e6e" stroke-width="1"/>
<path d="M261.2,35.80 H280.3" stroke="#000000" stroke-width="1.8"/>
<text transform="translate(282.20,38.80) scale(0.98,1)" text-anchor="start" font-family="'Liberation Sans', Arial, sans-serif" font-weight="normal" font-size="13.3" fill="#141414" stroke="#141414" stroke-width="0.3" stroke-linejoin="round">0 nM</text>
<path d="M261.2,51.80 H280.3" stroke="#f5143c" stroke-width="1.8"/>
<text transform="translate(282.20,54.80) scale(0.98,1)" text-anchor="start" font-family="'Liberation Sans', Arial, sans-serif" font-weight="normal" font-size="13.3" fill="#141414" stroke="#141414" stroke-width="0.3" stroke-linejoin="round">25 nM</text>
<path d="M261.2,67.80 H280.3" stroke="#1c1cc0" stroke-width="1.8"/>
<text transform="translate(282.20,70.80) scale(0.98,1)" text-anchor="start" font-family="'Liberation Sans', Arial, sans-serif" font-weight="normal" font-size="13.3" fill="#141414" stroke="#141414" stroke-width="0.3" stroke-linejoin="round">50 nM</text>
<path d="M261.2,83.80 H280.3" stroke="#108a60" stroke-width="1.8"/>
<text transform="translate(282.20,86.80) scale(0.98,1)" text-anchor="start" font-family="'Liberation Sans', Arial, sans-serif" font-weight="normal" font-size="13.3" fill="#141414" stroke="#141414" stroke-width="0.3" stroke-linejoin="round">100 nM</text>
<path d="M261.2,99.80 H280.3" stroke="#b432e6" stroke-width="1.8"/>
<text transform="translate(282.20,102.80) scale(0.98,1)" text-anchor="start" font-family="'Liberation Sans', Arial, sans-serif" font-weight="normal" font-size="13.3" fill="#141414" stroke="#141414" stroke-width="0.3" stroke-linejoin="round">250nM</text>
<path d="M261.2,115.80 H280.3" stroke="#4f7311" stroke-width="1.8"/>
<text transform="translate(282.20,118.80) scale(0.98,1)" text-anchor="start" font-family="'Liberation Sans', Arial, sans-serif" font-weight="normal" font-size="13.3" fill="#141414" stroke="#141414" stroke-width="0.3" stroke-linejoin="round">500nM</text>
<path d="M261.2,131.80 H280.3" stroke="#141496" stroke-width="1.8"/>
<text transform="translate(282.20,134.80) scale(0.98,1)" text-anchor="start" font-family="'Liberation Sans', Arial, sans-serif" font-weight="normal" font-size="13.3" fill="#141414" stroke="#141414" stroke-width="0.3" stroke-linejoin="round">750nM</text>
<path d="M261.2,147.80 H280.3" stroke="#360a1a" stroke-width="1.8"/>
<text transform="translate(282.20,150.80) scale(0.98,1)" text-anchor="start" font-family="'Liberation Sans', Arial, sans-serif" font-weight="normal" font-size="13.3" fill="#141414" stroke="#141414" stroke-width="0.3" stroke-linejoin="round">1000 nM</text>
<path d="M261.2,163.80 H280.3" stroke="#f5143c" stroke-width="1.8"/>
<text transform="translate(282.20,166.80) scale(0.98,1)" text-anchor="start" font-family="'Liberation Sans', Arial, sans-serif" font-weight="normal" font-size="13.3" fill="#141414" stroke="#141414" stroke-width="0.3" stroke-linejoin="round">1500 nM</text>
<path d="M261.2,179.80 H280.3" stroke="#12a012" stroke-width="1.8"/>
<text transform="translate(282.20,182.80) scale(0.98,1)" text-anchor="start" font-family="'Liberation Sans', Arial, sans-serif" font-weight="normal" font-size="13.3" fill="#141414" stroke="#141414" stroke-width="0.3" stroke-linejoin="round">2000 nM</text>
<path d="M261.2,195.80 H280.3" stroke="#1414a0" stroke-width="1.8"/>
<text transform="translate(282.20,198.80) scale(0.98,1)" text-anchor="start" font-family="'Liberation Sans', Arial, sans-serif" font-weight="normal" font-size="13.3" fill="#141414" stroke="#141414" stroke-width="0.3" stroke-linejoin="round">2500 nM</text>
</g>
<g id="panelB">
<path d="M526.6,218.3 L756.3,56.1" stroke="#f4607c" stroke-width="1.1" fill="none"/>
<rect x="498.7" y="221.7" width="4.6" height="5.2" fill="#0a0a0a"/>
<rect x="501.3" y="221.3" width="4.6" height="5.2" fill="#0a0a0a"/>
<rect x="503.8" y="220.6" width="4.6" height="5.2" fill="#0a0a0a"/>
<rect x="508.9" y="219.6" width="4.6" height="5.2" fill="#0a0a0a"/>
<rect x="524.3" y="215.7" width="4.6" height="5.2" fill="#0a0a0a"/>
<path d="M552.2,201.9 V209.3 M549.7,201.9 h5 M549.7,209.3 h5" stroke="#111" stroke-width="1.1" fill="none"/>
<rect x="549.9" y="203.0" width="4.6" height="5.2" fill="#0a0a0a"/>
<path d="M577.7,187.2 V197.1 M575.2,187.2 h5 M575.2,197.1 h5" stroke="#111" stroke-width="1.1" fill="none"/>
<rect x="575.4" y="189.6" width="4.6" height="5.2" fill="#0a0a0a"/>
<path d="M603.3,153.7 V164.3 M600.8,153.7 h5 M600.8,164.3 h5" stroke="#111" stroke-width="1.1" fill="none"/>
<rect x="601.0" y="156.4" width="4.6" height="5.2" fill="#0a0a0a"/>
<path d="M654.5,114.5 V127.9 M652.0,114.5 h5 M652.0,127.9 h5" stroke="#111" stroke-width="1.1" fill="none"/>
<rect x="652.2" y="118.6" width="4.6" height="5.2" fill="#0a0a0a"/>
<path d="M705.6,90.0 V105.5 M703.1,90.0 h5 M703.1,105.5 h5" stroke="#111" stroke-width="1.1" fill="none"/>
<rect x="703.3" y="95.1" width="4.6" height="5.2" fill="#0a0a0a"/>
<path d="M756.8,41.3 V57.1 M754.3,41.3 h5 M754.3,57.1 h5" stroke="#111" stroke-width="1.1" fill="none"/>
<rect x="754.5" y="46.6" width="4.6" height="5.2" fill="#0a0a0a"/>
<path d="M490.9,13.15 V229.5 H783.4000000000001" fill="none" stroke="#000" stroke-width="1.6"/>
<path d="M490.9,225.70 h-5.0 M490.9,190.40 h-5.0 M490.9,155.10 h-5.0 M490.9,119.80 h-5.0 M490.9,84.50 h-5.0 M490.9,49.20 h-5.0 M490.9,13.90 h-5.0 M490.9,208.05 h-2.9 M490.9,172.75 h-2.9 M490.9,137.45 h-2.9 M490.9,102.15 h-2.9 M490.9,66.85 h-2.9 M490.9,31.55 h-2.9 M501.00,229.5 v4.7 M552.16,229.5 v4.7 M603.32,229.5 v4.7 M654.48,229.5 v4.7 M705.64,229.5 v4.7 M756.80,229.5 v4.7 M526.58,229.5 v2.9 M577.74,229.5 v2.9 M628.90,229.5 v2.9 M680.06,229.5 v2.9 M731.22,229.5 v2.9 M782.38,229.5 v2.9" fill="none" stroke="#000" stroke-width="1.5"/>
<text transform="translate(483.50,229.40) scale(0.98,1)" text-anchor="end" font-family="'Liberation Sans', Arial, sans-serif" font-weight="bold" font-size="12.8" fill="#0a0a0a" stroke="#0a0a0a" stroke-width="0.5" stroke-linejoin="round">0</text>
<text transform="translate(483.50,194.10) scale(0.98,1)" text-anchor="end" font-family="'Liberation Sans', Arial, sans-serif" font-weight="bold" font-size="12.8" fill="#0a0a0a" stroke="#0a0a0a" stroke-width="0.5" stroke-linejoin="round">200</text>
<text transform="translate(483.50,158.80) scale(0.98,1)" text-anchor="end" font-family="'Liberation Sans', Arial, sans-serif" font-weight="bold" font-size="12.8" fill="#0a0a0a" stroke="#0a0a0a" stroke-width="0.5" stroke-linejoin="round">400</text>
<text transform="translate(483.50,123.50) scale(0.98,1)" text-anchor="end" font-family="'Liberation Sans', Arial, sans-serif" font-weight="bold" font-size="12.8" fill="#0a0a0a" stroke="#0a0a0a" stroke-width="0.5" stroke-linejoin="round">600</text>
<text transform="translate(483.50,88.20) scale(0.98,1)" text-anchor="end" font-family="'Liberation Sans', Arial, sans-serif" font-weight="bold" font-size="12.8" fill="#0a0a0a" stroke="#0a0a0a" stroke-width="0.5" stroke-linejoin="round">800</text>
<text transform="translate(483.50,52.90) scale(0.98,1)" text-anchor="end" font-family="'Liberation Sans', Arial, sans-serif" font-weight="bold" font-size="12.8" fill="#0a0a0a" stroke="#0a0a0a" stroke-width="0.5" stroke-linejoin="round">1000</text>
<text transform="translate(483.50,17.60) scale(0.98,1)" text-anchor="end" font-family="'Liberation Sans', Arial, sans-serif" font-weight="bold" font-size="12.8" fill="#0a0a0a" stroke="#0a0a0a" stroke-width="0.5" stroke-linejoin="round">1200</text>
<text transform="translate(501.00,246.70) scale(0.98,1)" text-anchor="middle" font-family="'Liberation Sans', Arial, sans-serif" font-weight="bold" font-size="12.8" fill="#0a0a0a" stroke="#0a0a0a" stroke-width="0.5" stroke-linejoin="round">0.0</text>
<text transform="translate(552.16,246.70) scale(0.98,1)" text-anchor="middle" font-family="'Liberation Sans', Arial, sans-serif" font-weight="bold" font-size="12.8" fill="#0a0a0a" stroke="#0a0a0a" stroke-width="0.5" stroke-linejoin="round">0.5</text>
<text transform="translate(603.32,246.70) scale(0.98,1)" text-anchor="middle" font-family="'Liberation Sans', Arial, sans-serif" font-weight="bold" font-size="12.8" fill="#0a0a0a" stroke="#0a0a0a" stroke-width="0.5" stroke-linejoin="round">1.0</text>
<text transform="translate(654.48,246.70) scale(0.98,1)" text-anchor="middle" font-family="'Liberation Sans', Arial, sans-serif" font-weight="bold" font-size="12.8" fill="#0a0a0a" stroke="#0a0a0a" stroke-width="0.5" stroke-linejoin="round">1.5</text>
<text transform="translate(705.64,246.70) scale(0.98,1)" text-anchor="middle" font-family="'Liberation Sans', Arial, sans-serif" font-weight="bold" font-size="12.8" fill="#0a0a0a" stroke="#0a0a0a" stroke-width="0.5" stroke-linejoin="round">2.0</text>
<text transform="translate(756.80,246.70) scale(0.98,1)" text-anchor="middle" font-family="'Liberation Sans', Arial, sans-serif" font-weight="bold" font-size="12.8" fill="#0a0a0a" stroke="#0a0a0a" stroke-width="0.5" stroke-linejoin="round">2.5</text>
<text transform="translate(558.60,270.30) scale(1.03,1)" text-anchor="start" font-family="'Liberation Sans', Arial, sans-serif" font-weight="bold" font-size="16.4" fill="#0a0a0a" stroke="#0a0a0a" stroke-width="0.45" stroke-linejoin="round">Concentration/<tspan font-family="'Liberation Serif', 'DejaVu Serif', serif" font-weight="normal" stroke-width="0.5">μ</tspan>M</text>
<text transform="translate(449.40,113.40) rotate(-90) scale(1.04,1)" text-anchor="middle" font-family="'Liberation Sans', Arial, sans-serif" font-weight="bold" font-size="16.3" fill="#0a0a0a" stroke="#0a0a0a" stroke-width="0.45" stroke-linejoin="round">FL/a.u.</text>
<text transform="translate(420.20,17.20) scale(0.98,1)" text-anchor="start" font-family="'Liberation Sans', Arial, sans-serif" font-weight="bold" font-size="21.9" fill="#0a0a0a" stroke="#0a0a0a" stroke-width="0.4" stroke-linejoin="round">B</text>
</g>
</g>
</svg>
</body>
</html>
